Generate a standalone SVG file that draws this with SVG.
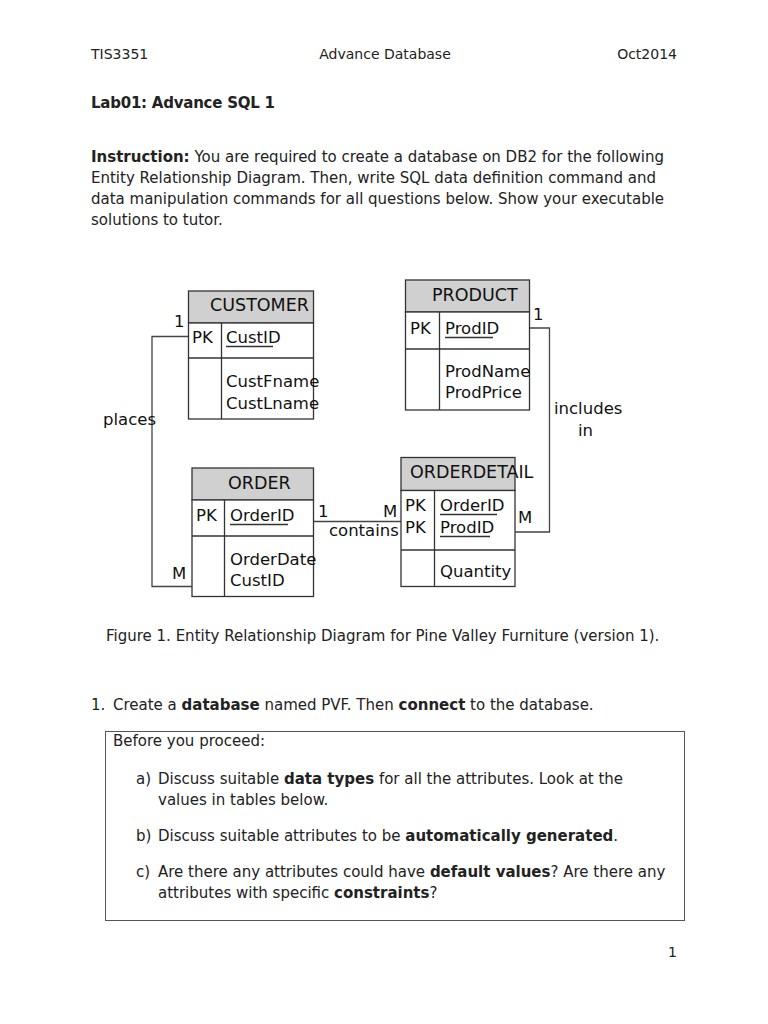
<svg xmlns="http://www.w3.org/2000/svg" width="768" height="1024" viewBox="0 0 768 1024">
<style>
.t{font-family:"DejaVu Sans","Liberation Sans",sans-serif;font-size:15px;fill:#222}
.h{font-size:14px}
.b{font-weight:bold}
.d{font-family:"DejaVu Sans","Liberation Sans",sans-serif;font-size:16.5px;fill:#111}
.H{font-size:17.5px}
.box{fill:#fff;stroke:#333;stroke-width:1.3}
.hd{fill:#d0d0d0;stroke:#333;stroke-width:1.3}
.ln{fill:none;stroke:#333;stroke-width:1.3}
.ul{stroke:#333;stroke-width:1.3}
.con{fill:none;stroke:#444;stroke-width:1.3}
</style>
<rect width="768" height="1024" fill="#fff"/>
<text class="t h" x="91" y="59">TIS3351</text>
<text class="t h" x="385" y="59" text-anchor="middle">Advance Database</text>
<text class="t h" x="677" y="59" text-anchor="end">Oct2014</text>
<text class="t b" x="91" y="108" textLength="184">Lab01: Advance SQL 1</text>
<text class="t" x="91" y="162"><tspan class="b">Instruction:</tspan> You are required to create a database on DB2 for the following</text>
<text class="t" x="91" y="183">Entity Relationship Diagram. Then, write SQL data definition command and</text>
<text class="t" x="91" y="204">data manipulation commands for all questions below. Show your executable</text>
<text class="t" x="91" y="225">solutions to tutor.</text>

<g id="connectors">
<polyline class="con" points="188,336.5 152,336.5 152,586.5 192,586.5"/>
<polyline class="con" points="529,328 549.5,328 549.5,532 515,532"/>
<line class="con" x1="313" y1="521.5" x2="401" y2="521.5"/>
<text class="d" x="174" y="327">1</text>
<text class="d" x="103" y="425">places</text>
<text class="d" x="172" y="579">M</text>
<text class="d" x="533" y="320">1</text>
<text class="d" x="554" y="414">includes</text>
<text class="d" x="578" y="436">in</text>
<text class="d" x="318" y="517">1</text>
<text class="d" x="383" y="517">M</text>
<text class="d" x="329" y="536">contains</text>
<text class="d" x="518" y="523">M</text>
</g>

<g id="customer">
<rect class="hd" x="188.5" y="291" width="125" height="32"/>
<rect class="box" x="188.5" y="323" width="125" height="96"/>
<line class="ln" x1="188.5" y1="358" x2="313.5" y2="358"/>
<line class="ln" x1="221.5" y1="323" x2="221.5" y2="419"/>
<text class="d H" x="210" y="311">CUSTOMER</text>
<text class="d" x="192" y="343">PK</text>
<text class="d" x="226" y="343">CustID</text>
<line class="ul" x1="226" y1="346.5" x2="273" y2="346.5"/>
<text class="d" x="226" y="387">CustFname</text>
<text class="d" x="226" y="409">CustLname</text>
</g>

<g id="product">
<rect class="hd" x="405.5" y="280" width="124" height="32"/>
<rect class="box" x="405.5" y="312" width="124" height="98"/>
<line class="ln" x1="405.5" y1="349" x2="529.5" y2="349"/>
<line class="ln" x1="439.5" y1="312" x2="439.5" y2="410"/>
<text class="d H" x="432" y="301">PRODUCT</text>
<text class="d" x="410" y="334">PK</text>
<text class="d" x="445" y="334">ProdID</text>
<line class="ul" x1="445" y1="337.5" x2="493" y2="337.5"/>
<text class="d" x="445" y="377">ProdName</text>
<text class="d" x="445" y="398">ProdPrice</text>
</g>

<g id="order">
<rect class="hd" x="192" y="468" width="121.5" height="32"/>
<rect class="box" x="192" y="500" width="121.5" height="96.5"/>
<line class="ln" x1="192" y1="536" x2="313.5" y2="536"/>
<line class="ln" x1="224.5" y1="500" x2="224.5" y2="596.5"/>
<text class="d H" x="228" y="489">ORDER</text>
<text class="d" x="196" y="521">PK</text>
<text class="d" x="230" y="521">OrderID</text>
<line class="ul" x1="230" y1="524.5" x2="288" y2="524.5"/>
<text class="d" x="230" y="565">OrderDate</text>
<text class="d" x="230" y="586">CustID</text>
</g>

<g id="orderdetail">
<rect class="hd" x="401" y="457.5" width="114" height="33"/>
<rect class="box" x="401" y="490.5" width="114" height="96"/>
<line class="ln" x1="401" y1="550" x2="515" y2="550"/>
<line class="ln" x1="434.5" y1="490.5" x2="434.5" y2="586.5"/>
<text class="d H" x="410" y="478">ORDERDETAIL</text>
<text class="d" x="405" y="511">PK</text>
<text class="d" x="440" y="511">OrderID</text>
<line class="ul" x1="440" y1="514.5" x2="497" y2="514.5"/>
<text class="d" x="405" y="533">PK</text>
<text class="d" x="440" y="533">ProdID</text>
<line class="ul" x1="440" y1="536.5" x2="490" y2="536.5"/>
<text class="d" x="440" y="577">Quantity</text>
</g>

<text class="t" x="106" y="641">Figure 1. Entity Relationship Diagram for Pine Valley Furniture (version 1).</text>
<text class="t" x="91" y="710">1.</text>
<text class="t" x="113" y="710">Create a <tspan class="b">database</tspan> named PVF. Then <tspan class="b">connect</tspan> to the database.</text>
<rect x="105.5" y="731.5" width="579" height="189" fill="none" stroke="#555" stroke-width="1"/>
<text class="t" x="113" y="746">Before you proceed:</text>
<text class="t" x="136" y="784">a)</text>
<text class="t" x="158" y="784">Discuss suitable <tspan class="b">data types</tspan> for all the attributes. Look at the</text>
<text class="t" x="158" y="805">values in tables below.</text>
<text class="t" x="136" y="841">b)</text>
<text class="t" x="158" y="841">Discuss suitable attributes to be <tspan class="b">automatically generated</tspan>.</text>
<text class="t" x="136" y="877">c)</text>
<text class="t" x="158" y="877">Are there any attributes could have <tspan class="b">default values</tspan>? Are there any</text>
<text class="t" x="158" y="898">attributes with specific <tspan class="b">constraints</tspan>?</text>
<text class="t h" x="677" y="957" text-anchor="end">1</text>
</svg>
